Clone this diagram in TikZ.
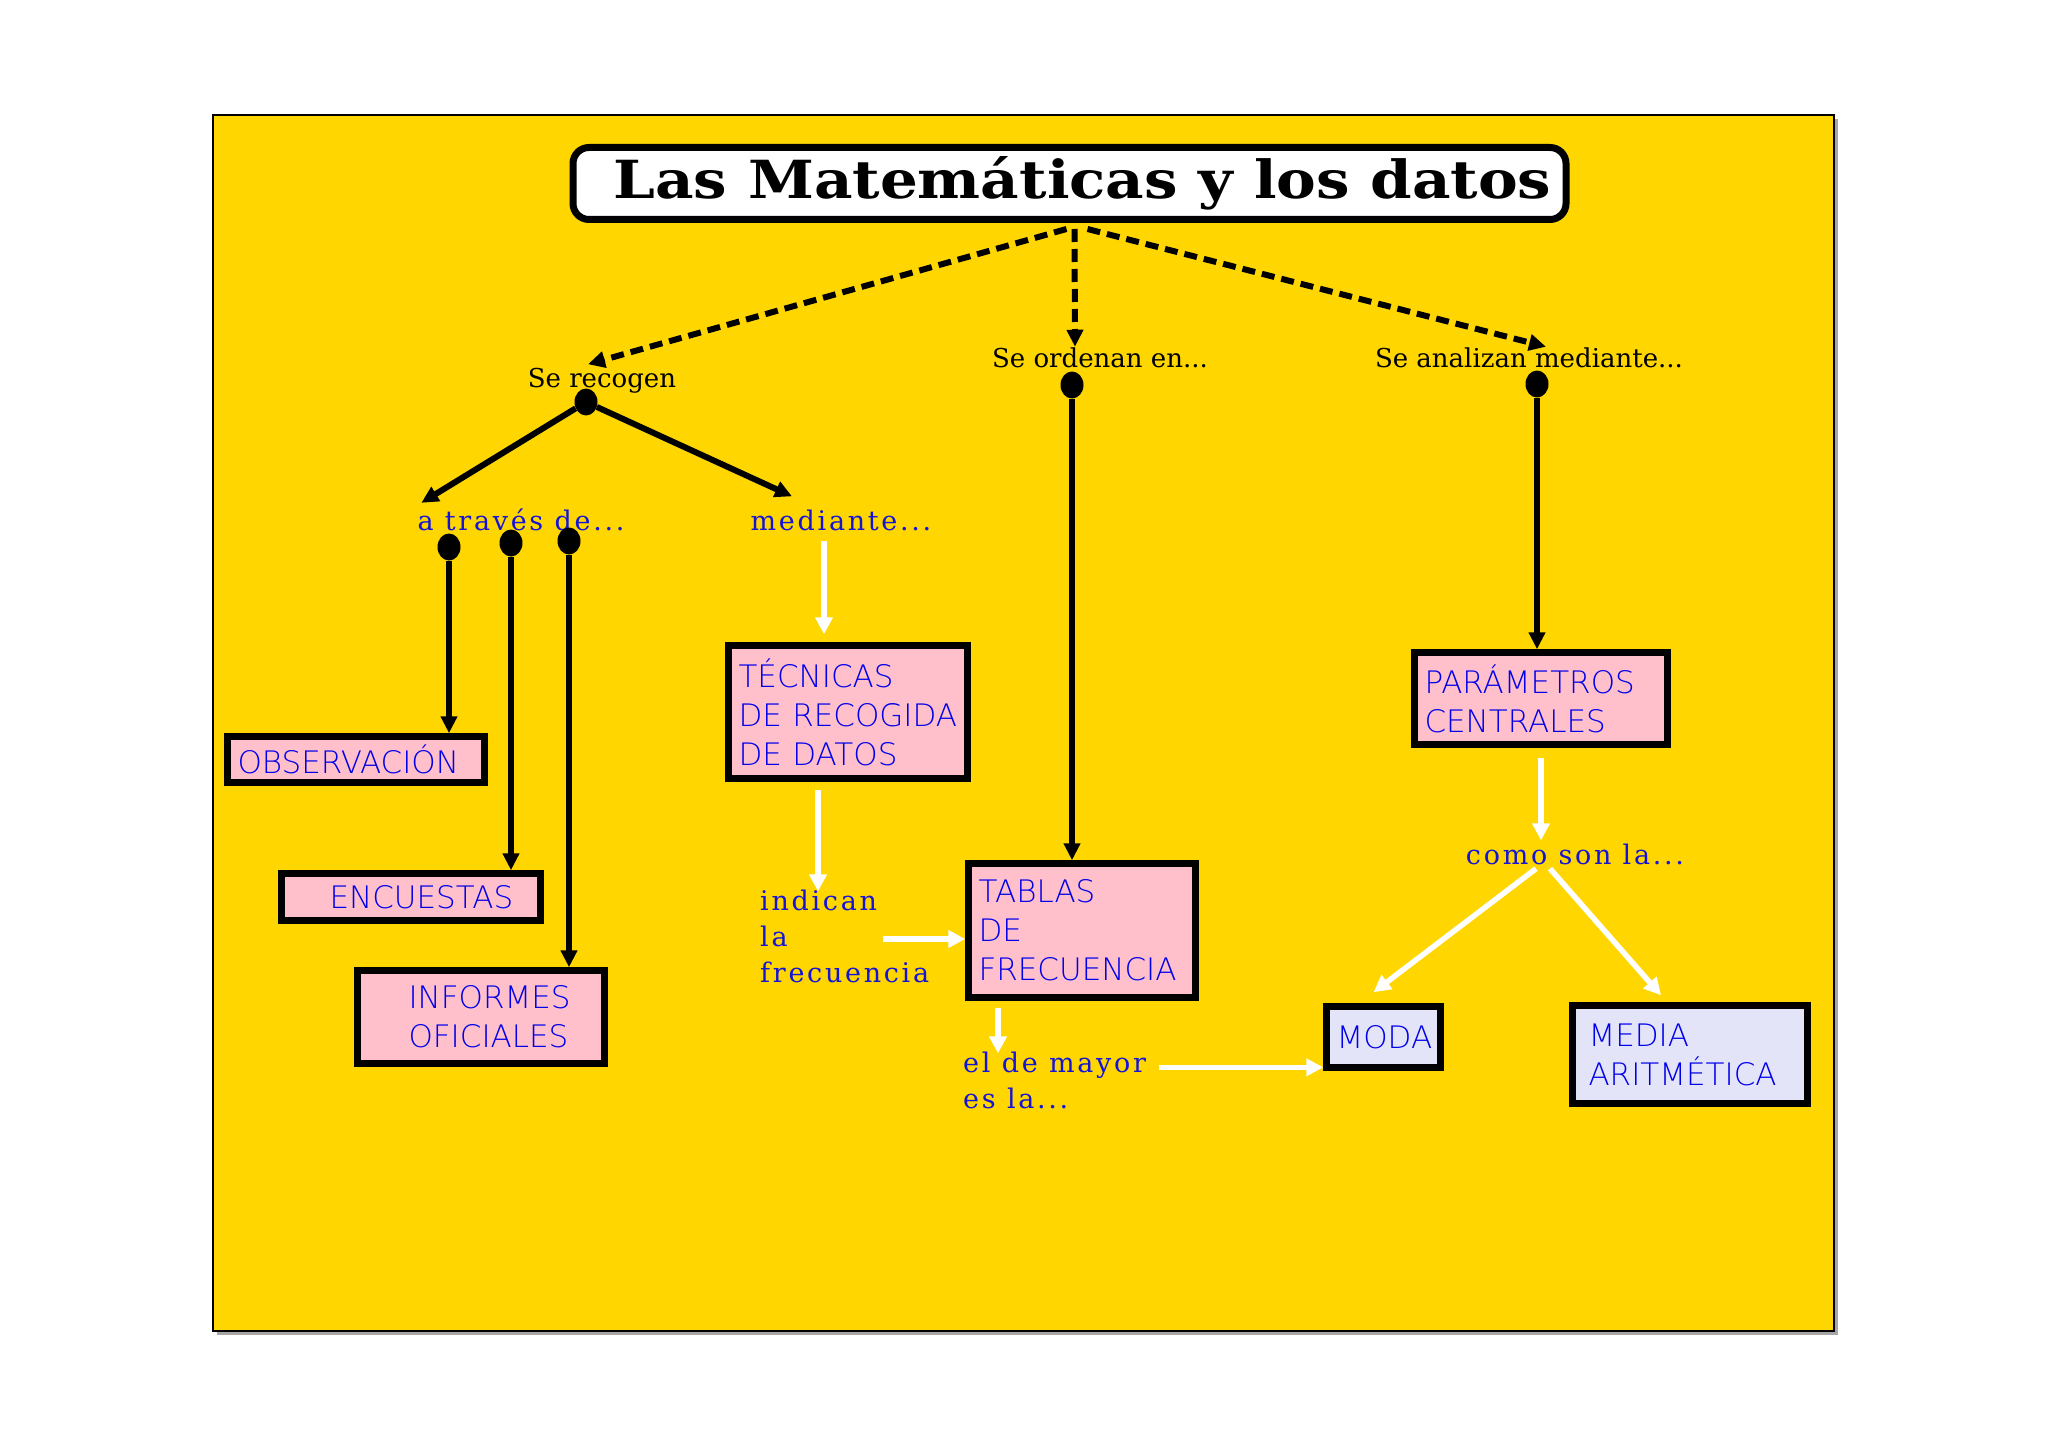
\documentclass[tikz,border=0pt]{standalone}
\usepackage{fontspec}
\usepackage{graphicx}
\usetikzlibrary{arrows.meta,shapes.geometric,calc}
\setmainfont{DejaVu Serif}
\newfontfamily\labfont{DejaVu Serif}
\newfontfamily\bluefont{DejaVu Serif}[LetterSpace=10]
\IfFontExistsTF{DejaVu Sans ExtraLight}{\newfontfamily\boxfont{DejaVu Sans ExtraLight}}{\newfontfamily\boxfont{DejaVu Sans}}
\newfontfamily\titlefont{DejaVu Serif}
\definecolor{bgyellow}{RGB}{255,214,0}
\definecolor{boxpink}{RGB}{255,192,203}
\definecolor{boxlav}{RGB}{228,228,248}
\definecolor{txtblue}{RGB}{20,20,215}
\definecolor{boxblue}{RGB}{0,0,235}
\tikzset{
  boxnode/.style={draw=black, line width=6.5pt, fill=boxpink, inner xsep=10pt, inner ysep=0pt, align=left, text=boxblue, font=\boxfont\fontsize{31}{39}\selectfont},
  lavnode/.style={boxnode, fill=boxlav},
  blab/.style={inner sep=0pt, font=\labfont\fontsize{26}{32}\selectfont, text=black},
  ulab/.style={inner sep=0pt, font=\bluefont\fontsize{27}{36}\selectfont, text=txtblue, align=left},
  blobdot/.style={ellipse, fill=black, minimum width=23pt, minimum height=27pt, inner sep=0pt},
  barrow/.style={draw=black, line width=6pt, -{Triangle[length=17pt,width=16pt]}},
  warrow/.style={draw=white, line width=5.5pt, -{Triangle[length=17pt,width=17pt]}},
  darrow/.style={draw=black, line width=6pt, dash pattern=on 13pt off 7pt, -{Triangle[length=17pt,width=16pt]}},
}
\begin{document}
\begin{tikzpicture}[x=1pt,y=-1pt]
\useasboundingbox (0,0) rectangle (2048,1447);
\fill[white] (0,0) rectangle (2048,1447);
% frame
\fill[gray!70] (217,119) rectangle (1838,1335);
\draw[line width=2.5pt, fill=bgyellow] (213,115) rectangle (1834,1331);

% title
\node[draw=black, line width=7pt, fill=white, rounded corners=16pt, minimum width=993pt, minimum height=72pt, inner sep=0pt] (title) at (1069.5,183.5)
  {\hspace*{26pt}\resizebox{938pt}{42pt}{\titlefont\bfseries Las Matemáticas y los datos}};

% level-1 labels
\node[blab] (serec) at (602,381) {Se recogen};
\node[blab] (seord) at (1100,358) {Se ordenan en...};
\node[blab] (seana) at (1529,358) {Se analizan mediante...};

\draw[darrow] ([xshift=-3pt,yshift=-6pt]title.south) -- ([xshift=-14pt,yshift=4pt]serec.north);
\draw[darrow] ([xshift=5pt,yshift=-6pt]title.south) -- ([xshift=-25pt,yshift=1pt]seord.north);
\draw[darrow] ([xshift=18pt,yshift=-6pt]title.south) -- ([xshift=17pt,yshift=1pt]seana.north);

% dots
\node[blobdot] (drec) at (586,402) {};
\node[blobdot] (dord) at (1072,385) {};
\node[blobdot] (dana) at (1537,384) {};

% blue labels
\node[ulab] (atr) at (521,520) {a través de...};
\node[ulab] (med) at (841,520) {mediante...};
\node[ulab, anchor=west] (ind) at (760,936) {indican\\la\\frecuencia};
\node[ulab, anchor=west] (eldm) at (963,1080) {el de mayor\\es la...};
\node[ulab] (como) at (1575,854) {como son la...};

\node[blobdot] (da) at (449,547) {};
\node[blobdot] (db) at (511,543) {};
\node[blobdot] (dc) at (569,541) {};

% boxes
\node[boxnode, minimum width=257pt, minimum height=46pt, text width=237pt] (obs) at (356,759.5) {OBSERVACIÓN};
\node[boxnode, minimum width=259pt, minimum height=47pt, text width=239pt] (enc) at (411,897) {\hspace*{38pt}ENCUESTAS};
\node[boxnode, minimum width=247pt, minimum height=93pt, text width=227pt] (inf) at (481,1017) {\hspace*{41pt}INFORMES\\\hspace*{41pt}OFICIALES};
\node[boxnode, minimum width=239pt, minimum height=133pt, text width=219pt] (tec) at (848,712) {TÉCNICAS\\DE RECOGIDA\\DE DATOS};
\node[boxnode, minimum width=227pt, minimum height=134pt, text width=207pt] (tab) at (1082,930.5) {TABLAS\\DE\\FRECUENCIA};
\node[boxnode, minimum width=253pt, minimum height=92pt, text width=233pt] (par) at (1541,698.5) {PARÁMETROS\\CENTRALES};
\node[lavnode, minimum width=114pt, minimum height=61pt, text width=94pt] (moda) at (1383.5,1037) {MODA};
\node[lavnode, minimum width=235pt, minimum height=98pt, text width=215pt] (media) at (1690,1054.5) {\hspace*{6pt}MEDIA\\\hspace*{6pt}ARITMÉTICA};

% black connectors
\draw[barrow] (drec) -- ([xshift=4pt,yshift=6pt]atr.north west);
\draw[barrow] (drec) -- ([xshift=-49pt,yshift=13pt]med.north);
\draw[barrow] (da) -- (da |- obs.north);
\draw[barrow] (db) -- (db |- enc.north);
\draw[barrow] (dc) -- (dc |- inf.north);
\draw[barrow] (dord) -- (dord |- tab.north);
\draw[barrow] (dana) -- (dana |- par.north);

% white connectors
\coordinate (w1) at ([xshift=-17pt,yshift=-10pt]med.south);
\coordinate (w2) at ([xshift=-30pt,yshift=-8pt]tec.south);
\coordinate (w3) at ([xshift=-84pt,yshift=-7pt]tab.south);
\coordinate (w4) at ([xshift=13pt,yshift=-16pt]eldm.north east);
\draw[warrow] (w1) -- ([yshift=8pt]w1 |- tec.north);
\draw[warrow] (w2) -- ([yshift=-2pt]w2 |- ind.north);
\draw[warrow] ([xshift=38pt,yshift=-3pt]ind.center) -- ([yshift=-8.5pt]tab.west);
\draw[warrow] (w3) -- ([yshift=-2pt]w3 |- eldm.north);
\draw[warrow] (w4) -- (w4 -| moda.west);
\draw[warrow] ([yshift=-10pt]par.south) -- ([xshift=-34pt,yshift=3pt]como.north);
\draw[warrow] ([xshift=-39pt,yshift=-4pt]como.south) -- ([xshift=-10pt,yshift=11pt]moda.north);
\draw[warrow] ([xshift=-25pt,yshift=-4pt]como.south) -- ([xshift=-29pt,yshift=7pt]media.north);
\end{tikzpicture}
\end{document}
